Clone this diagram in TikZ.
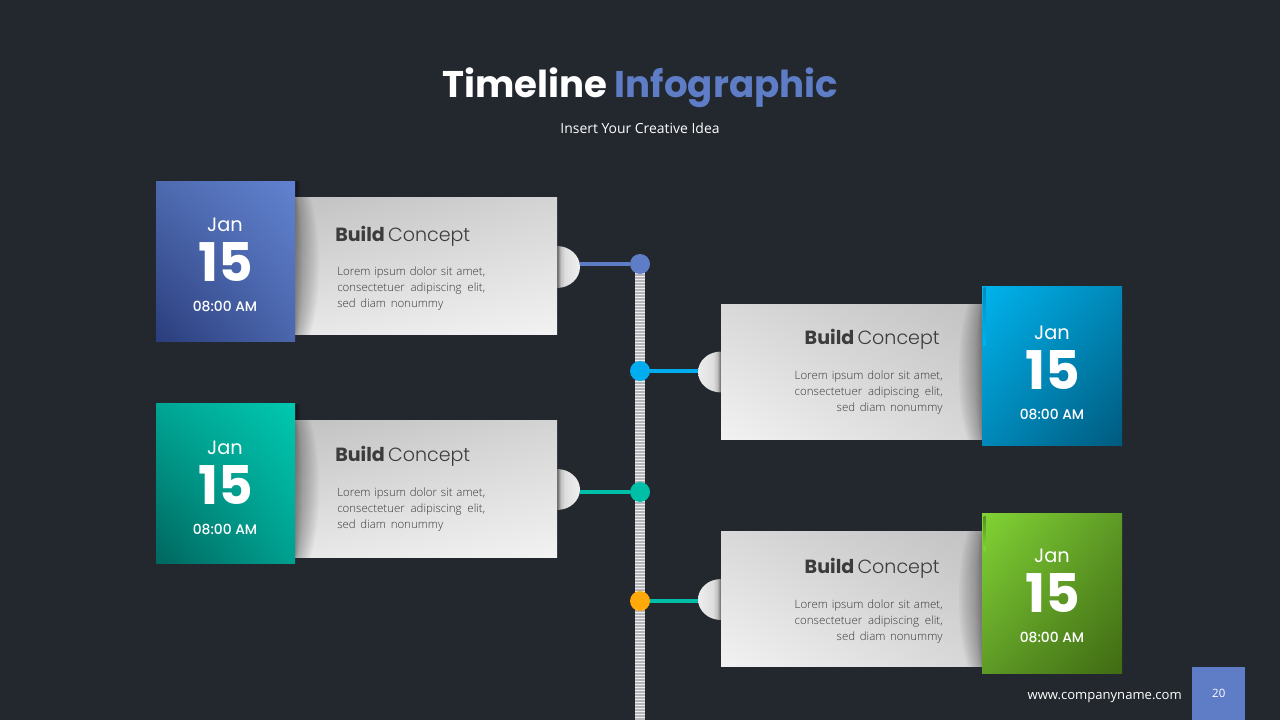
\documentclass[tikz,border=0pt]{standalone}
\usepackage{fontspec}
\usetikzlibrary{shadings}
\setmainfont{Open Sans}
\newfontfamily\popp[BoldFont={Poppins Bold}]{Poppins}
\newfontfamily\poplight{Poppins Light}
\newfontfamily\popmed{Poppins Medium}
\newfontfamily\bodyf{Open Sans Light}
\definecolor{bg}{HTML}{23282F}
\definecolor{cblue}{HTML}{5E7DC6}
\definecolor{ccyan}{HTML}{00AEEF}
\definecolor{cteal}{HTML}{00BFA8}
\definecolor{corange}{HTML}{FFA90A}
\definecolor{ink}{HTML}{3C3C3C}
\definecolor{bodyink}{HTML}{363636}
\definecolor{railbase}{HTML}{B4B4BA}
\definecolor{railtop}{HTML}{EDEDED}
\definecolor{bTL}{HTML}{4E6AAF}\definecolor{bTR}{HTML}{6182D0}\definecolor{bBL}{HTML}{2A3D7C}\definecolor{bBR}{HTML}{4B66AC}
\definecolor{cTL}{HTML}{00B4EE}\definecolor{cTR}{HTML}{0088B8}\definecolor{cBL}{HTML}{0088B8}\definecolor{cBR}{HTML}{005A7E}
\definecolor{tTL}{HTML}{00A594}\definecolor{tTR}{HTML}{00C8B0}\definecolor{tBL}{HTML}{00665E}\definecolor{tBR}{HTML}{00A090}
\definecolor{gTL}{HTML}{82D434}\definecolor{gTR}{HTML}{5E9A26}\definecolor{gBL}{HTML}{5E9A26}\definecolor{gBR}{HTML}{3F6A12}
\pgfdeclarehorizontalshading{semiL}{100bp}{color(0bp)=(black!62!white); color(25bp)=(black!62!white); color(33bp)=(black!25!white); color(42bp)=(black!13!white); color(75bp)=(black!6!white); color(100bp)=(black!6!white)}
\pgfdeclarehorizontalshading{semiR}{100bp}{color(0bp)=(black!7!white); color(25bp)=(black!7!white); color(58bp)=(black!13!white); color(67bp)=(black!25!white); color(75bp)=(black!62!white); color(100bp)=(black!62!white)}
\tikzset{
  x=0.75pt, y=-0.75pt,
  box/.style={inner sep=0pt, outer sep=0pt, minimum width=#1*0.75pt},
  cardL/.style={box=262, minimum height=102.4pt, shading=bilinear interpolation, lower left=black!9!white, lower right=black!5!white, upper left=black!24!white, upper right=black!17!white},
  cardR/.style={box=262, minimum height=101.8pt, shading=bilinear interpolation, lower left=black!5!white, lower right=black!16!white, upper left=black!15!white, upper right=black!24!white},
  tile/.style={box=139, minimum height=120pt},
  dot/.style={circle, fill=#1, inner sep=0pt, outer sep=0pt, minimum size=15pt},
  link/.style={line width=3.4pt},
  railbar/.style={draw=railbase, line width=7pt},
  railfine/.style={draw=railtop, line width=7pt, dash pattern=on 1.1pt off 1.15pt},
  mon/.style={text=white, font=\popp\fontsize{14.5}{16}\selectfont},
  daynum/.style={text=white, font=\popp\bfseries\fontsize{40}{41}\selectfont},
  hour/.style={text=white, font=\popmed\fontsize{10.4}{12}\selectfont},
  head/.style={text=ink, font=\popp\fontsize{14.3}{18}\selectfont},
  para/.style={text=bodyink, font=\bodyf\fontsize{8.6}{12}\selectfont, inner sep=0pt},
  tabL/.style={shading=semiL},
  tabR/.style={shading=semiR},
}
\newcommand{\fitline}[1]{\makebox[111pt][s]{#1}}
\newcommand{\lastline}{\makebox[79.5pt][s]{sed diam nonummy}}
\newcommand{\headtext}{{\bfseries Build}\,{\poplight Concept}}
% soft shadow: stacked translucent ellipses, clipped to a card node
\newcommand{\castshadow}[3]{%
  \begin{scope}
  \clip (#1.north west) rectangle (#1.south east);
  \foreach \r in {1,2,3,4,5,6,7,8,10,12,14,16,18,20,22,24}{
    \fill[black, opacity=0.03] (#2,#3) ellipse[x radius=\r, y radius=64+\r];
  }
  \end{scope}}
\begin{document}
\begin{tikzpicture}
\useasboundingbox (0,0) rectangle (1280,720);
\fill[bg] (0,0) rectangle (1280,720);
% title
\node[font=\popp\bfseries\fontsize{27.85}{30}\selectfont, inner sep=0pt] (title) at (640,88) {\textcolor{white}{Timeline} \textcolor{cblue}{Infographic}};
\node[text=white, font=\fontsize{10.45}{12}\selectfont, inner sep=0pt] (sub) at (640,128) {Insert Your Creative Idea};
% rail
\coordinate (rtop) at (640,264);
\coordinate (rend) at (640,720);
\draw[railbar] (rtop) -- (rend);
\draw[railfine] (rtop) -- (rend);
% hubs
\node[dot=cblue] (d1) at (640,264) {};
\node[dot=ccyan] (d2) at (640,371) {};
\node[dot=cteal] (d3) at (640,492) {};
\node[dot=corange] (d4) at (640,601) {};
% link ends
\coordinate (t1) at (578,264);
\coordinate (t2) at (700,371);
\coordinate (t3) at (576,492);
\coordinate (t4) at (700,601);
\draw[link,cblue] (t1) -- (d1);
\draw[link,ccyan] (t2) -- (d2);
\draw[link,cteal,line width=3pt] (t3) -- (d3);
\draw[link,cteal] (t4) -- (d4);
% tabs
\fill[tabL] (557,246) arc[start angle=-90,end angle=90,x radius=23,y radius=21] -- cycle;
\fill[tabL] (557,469) arc[start angle=-90,end angle=90,x radius=23,y radius=20.5] -- cycle;
\fill[tabR] (721,351.5) arc[start angle=270,end angle=90,x radius=23,y radius=20.5] -- cycle;
\fill[tabR] (721,579) arc[start angle=270,end angle=90,x radius=23,y radius=20.5] -- cycle;
% shadows beside the tiles, above the cards
\shade[left color=black!45!bg, right color=bg] (295,182) rectangle (301,198);
\shade[left color=black!45!bg, right color=bg] (295,404) rectangle (301,421);
% cards
\node[cardL, anchor=north west] (c1) at (295,198) {};
\node[cardR, anchor=north west] (c2) at (721,304) {};
\node[cardL, anchor=north west] (c3) at (295,420.8) {};
\node[cardR, anchor=north west] (c4) at (721,531) {};
% shadows cast on the cards
\castshadow{c1}{295}{266}
\castshadow{c3}{295}{489}
\castshadow{c2}{983}{372}
\castshadow{c4}{983}{599}
% tiles
\node[tile, anchor=north west, shading=bilinear interpolation, lower left=bBL, lower right=bBR, upper left=bTL, upper right=bTR] (s1) at (156,181.5) {};
\node[tile, box=140, minimum height=119.8pt, anchor=north west, shading=bilinear interpolation, lower left=cBL, lower right=cBR, upper left=cTL, upper right=cTR] (s2) at (982,286) {};
\node[tile, anchor=north west, shading=bilinear interpolation, lower left=tBL, lower right=tBR, upper left=tTL, upper right=tTR] (s3) at (156,403.5) {};
\node[tile, box=140, anchor=north west, shading=bilinear interpolation, lower left=gBL, lower right=gBR, upper left=gTL, upper right=gTR] (s4) at (982,513.5) {};
% darker slivers on the right-hand tiles
\shade[top color=cTL!55!cBR, bottom color=cTL] (983.5,287) rectangle (985.5,345);
\shade[top color=gTL!35!gBR, bottom color=gTL] (983.5,516) rectangle (985.5,550);
% tile text
\node[mon] (j1) at (225,225) {Jan};
\node[daynum] (n1) at (226,262) {15};
\node[hour] (h1) at (225,306) {08:00 AM};
\node[mon] (j2) at (1052,333) {Jan};
\node[daynum] (n2) at (1053,370) {15};
\node[hour] (h2) at (1052,414) {08:00 AM};
\node[mon] (j3) at (225,448) {Jan};
\node[daynum] (n3) at (226,485) {15};
\node[hour] (h3) at (225,529) {08:00 AM};
\node[mon] (j4) at (1052,556) {Jan};
\node[daynum] (n4) at (1053,593) {15};
\node[hour] (h4) at (1052,637) {08:00 AM};
% card text
\node[head, anchor=west, inner sep=0pt] (b1) at (335,236) {\headtext};
\node[head, anchor=east, inner sep=0pt] (b2) at (940,339) {\headtext};
\node[head, anchor=west, inner sep=0pt] (b3) at (335,456) {\headtext};
\node[head, anchor=east, inner sep=0pt] (b4) at (940,568) {\headtext};
\node[para, anchor=north west, align=left] (p1) at (337,267) {\fitline{Lorem ipsum dolor sit amet,}\\\fitline{consectetuer adipiscing elit,}\\\lastline};
\node[para, anchor=north east, align=right] (p2) at (943,371) {\fitline{Lorem ipsum dolor sit amet,}\\\fitline{consectetuer adipiscing elit,}\\\lastline};
\node[para, anchor=north west, align=left] (p3) at (337,488) {\fitline{Lorem ipsum dolor sit amet,}\\\fitline{consectetuer adipiscing elit,}\\\lastline};
\node[para, anchor=north east, align=right] (p4) at (943,600) {\fitline{Lorem ipsum dolor sit amet,}\\\fitline{consectetuer adipiscing elit,}\\\lastline};
% footer
\node[fill=cblue, anchor=north west, inner sep=0pt, minimum width=39.75pt, minimum height=39.75pt, text=white, font=\fontsize{8.6}{10}\selectfont] (pg) at (1192,667) {20};
\node[text=white, anchor=east, inner sep=0pt, font=\fontsize{9.8}{12}\selectfont] (web) at (1182,698) {www.companyname.com};
\end{tikzpicture}
\end{document}
